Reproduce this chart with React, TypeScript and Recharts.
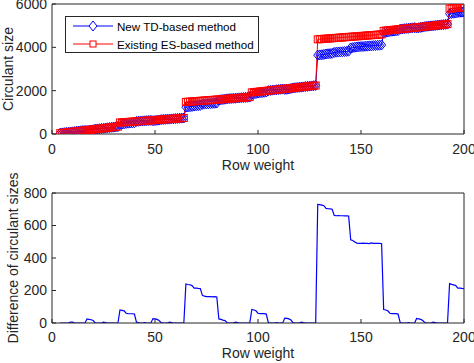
import React from "react";
import { LineChart, Line, XAxis, YAxis, Legend, Label } from "recharts";

// row weights start at 4 and go up by one to 200
const FIRST_ROW_WEIGHT = 4;

// circulant size, new TD-based method (blue diamonds)
const tdSize = [
  40, 50, 62, 72, 82, 90, 99, 115, 126, 136, 148, 158, 168, 157, 170, 183, 197, 222, 234, 244, 255, 261, 273, 288, 297, 308, 318, 330, 340,
  450, 458, 469, 489, 500, 507, 513, 521, 580, 588, 598, 603, 608, 618, 624, 630, 612, 619, 630, 642, 663, 672, 677, 686, 686, 696, 704, 713, 718, 727, 732, 740,
  1240, 1251, 1258, 1273, 1293, 1302, 1309, 1320, 1367, 1381, 1389, 1399, 1404, 1414, 1418, 1430, 1570, 1582, 1591, 1604, 1622, 1633, 1638, 1648, 1648, 1659, 1667, 1677, 1682, 1691, 1696, 1705,
  1837, 1850, 1866, 1890, 1904, 1913, 1924, 1936, 2000, 2011, 2024, 2032, 2042, 2053, 2065, 2073, 2056, 2066, 2081, 2097, 2125, 2135, 2148, 2156, 2163, 2174, 2189, 2197, 2210, 2218, 2230, 2240,
  3640, 3650, 3658, 3671, 3693, 3704, 3711, 3722, 3765, 3777, 3781, 3791, 3797, 3807, 3811, 3823, 3974, 3987, 4003, 4018, 4025, 4035, 4039, 4049, 4055, 4065, 4066, 4079, 4084, 4093, 4099, 4110,
  4677, 4689, 4706, 4729, 4743, 4752, 4761, 4776, 4837, 4849, 4861, 4870, 4877, 4891, 4900, 4909, 4893, 4905, 4917, 4936, 4958, 4969, 4981, 4990, 4994, 5008, 5020, 5029, 5041, 5050, 5059, 5071,
  5548, 5562, 5573, 5585, 5607, 5616, 5625, 5634,
];

// circulant size, existing ES-based method (red squares)
const esSize = [
  40, 50, 62, 72, 82, 95, 104, 115, 126, 136, 148, 158, 168, 182, 192, 203, 212, 222, 234, 244, 255, 266, 276, 288, 297, 308, 318, 330, 340,
  530, 536, 544, 549, 557, 564, 570, 576, 585, 590, 598, 603, 611, 618, 624, 630, 639, 644, 652, 657, 665, 672, 677, 686, 691, 699, 704, 713, 718, 727, 732, 740,
  1480, 1488, 1493, 1503, 1508, 1517, 1522, 1532, 1537, 1546, 1551, 1561, 1566, 1575, 1580, 1590, 1595, 1604, 1609, 1619, 1624, 1633, 1638, 1648, 1653, 1662, 1667, 1677, 1682, 1691, 1696, 1705,
  1920, 1930, 1941, 1950, 1962, 1971, 1982, 1991, 2003, 2011, 2024, 2032, 2044, 2053, 2065, 2073, 2086, 2094, 2106, 2115, 2127, 2135, 2148, 2156, 2168, 2177, 2189, 2197, 2210, 2218, 2230, 2240,
  4370, 4378, 4383, 4393, 4398, 4407, 4413, 4422, 4427, 4437, 4442, 4451, 4457, 4466, 4471, 4481, 4486, 4495, 4501, 4510, 4515, 4525, 4530, 4539, 4545, 4554, 4559, 4569, 4574, 4583, 4589, 4598,
  4760, 4769, 4781, 4789, 4801, 4810, 4819, 4831, 4840, 4849, 4861, 4870, 4879, 4891, 4900, 4909, 4921, 4930, 4939, 4951, 4960, 4969, 4981, 4990, 4999, 5011, 5020, 5029, 5041, 5050, 5059, 5071,
  5790, 5800, 5808, 5815, 5822, 5831, 5838, 5846,
];

const weightTicks = [0, 50, 100, 150, 200];
const sizeTicks = [0, 2000, 4000, 6000];
const diffTicks = [0, 200, 400, 600, 800];

const data = esSize.map((es, i) => ({
  weight: i + FIRST_ROW_WEIGHT,
  td: tdSize[i],
  es,
  diff: es - tdSize[i],
}));

const AXIS = "#262626";
const FONT = '"Liberation Sans", Arial, sans-serif';
const BLUE = "#0000ff";
const RED = "#ff0000";
const tickStyle = { fill: AXIS, fontSize: 14, fontFamily: FONT };
const labelStyle = { fill: AXIS, fontSize: 14, fontFamily: FONT };

const diamondPath = (x: number, y: number) =>
  `M${x},${y - 5}L${x + 4},${y}L${x},${y + 5}L${x - 4},${y}Z`;

const DiamondDot = (props: any) => {
  const { cx, cy, index } = props;
  if (cx == null || cy == null) return <g key={`td-${index}`} />;
  return (
    <path key={`td-${index}`} d={diamondPath(cx, cy)} fill="none" stroke={BLUE} strokeWidth={1} />
  );
};

const SquareDot = (props: any) => {
  const { cx, cy, index } = props;
  if (cx == null || cy == null) return <g key={`es-${index}`} />;
  return (
    <rect key={`es-${index}`} x={cx - 3.5} y={cy - 3.5} width={7} height={7} fill="none" stroke={RED} strokeWidth={1} />
  );
};

const LegendBox = () => (
  <div
    style={{
      boxSizing: "border-box",
      width: 194,
      height: 37,
      border: `1px solid ${AXIS}`,
      background: "#fff",
      fontFamily: FONT,
      fontSize: 11.6,
      color: "#000",
      paddingLeft: 7,
      whiteSpace: "nowrap",
    }}
  >
    <div style={{ display: "flex", alignItems: "center", height: 18 }}>
      <svg width={41} height={12}>
        <line x1={0} y1={6} x2={40} y2={6} stroke={BLUE} />
        <path d={diamondPath(20, 6)} fill="#fff" stroke={BLUE} />
      </svg>
      <span style={{ marginLeft: 3 }}>New TD-based method</span>
    </div>
    <div style={{ display: "flex", alignItems: "center", height: 18 }}>
      <svg width={41} height={12}>
        <line x1={0} y1={6} x2={40} y2={6} stroke={RED} />
        <rect x={17} y={3} width={6} height={6} fill="#fff" stroke={RED} />
      </svg>
      <span style={{ marginLeft: 3 }}>Existing ES-based method</span>
    </div>
  </div>
);

const App = () => (
  <div style={{ position: "absolute", left: 0, top: 0, width: 474, height: 363, background: "#fff" }}>
    <div style={{ position: "absolute", left: 0, top: 0 }}>
      <LineChart width={474} height={180} data={data} margin={{ top: 3, right: 9, bottom: 0, left: 0 }}>
        <XAxis
          xAxisId="b"
          dataKey="weight"
          type="number"
          domain={[0, 200]}
          ticks={weightTicks}
          interval={0}
          height={46}
          tickSize={-4}
          tickMargin={14}
          stroke={AXIS}
          tick={tickStyle}
          allowDataOverflow
        >
          <Label value="Row weight" position="insideBottom" offset={10} style={labelStyle} />
        </XAxis>
        <XAxis xAxisId="t" orientation="top" dataKey="weight" type="number" domain={[0, 200]} ticks={weightTicks} height={1} tickSize={-4} tick={false} stroke={AXIS} allowDataOverflow />
        <YAxis
          yAxisId="l"
          type="number"
          domain={[0, 6000]}
          ticks={sizeTicks}
          interval={0}
          width={52}
          tickSize={-4}
          tickMargin={9}
          stroke={AXIS}
          tick={tickStyle}
          allowDataOverflow
        >
          <Label value="Circulant size" angle={-90} position="insideLeft" offset={8} style={{ ...labelStyle, textAnchor: "middle" }} />
        </YAxis>
        <YAxis yAxisId="r" orientation="right" type="number" domain={[0, 6000]} ticks={sizeTicks} width={1} tickSize={-4} tick={false} stroke={AXIS} allowDataOverflow />
        <Line xAxisId="b" yAxisId="l" type="linear" dataKey="td" stroke={BLUE} strokeWidth={1} dot={DiamondDot} activeDot={false} isAnimationActive={false} />
        <Line xAxisId="b" yAxisId="l" type="linear" dataKey="es" stroke={RED} strokeWidth={1} dot={SquareDot} activeDot={false} isAnimationActive={false} />
        <Legend layout="vertical" align="center" verticalAlign="middle" content={<LegendBox />} wrapperStyle={{ left: 65, top: 16, width: 194, height: 37 }} />
      </LineChart>
    </div>
    <div style={{ position: "absolute", left: 0, top: 160 }}>
      <LineChart width={474} height={203} data={data} margin={{ top: 32, right: 9, bottom: 0, left: 0 }}>
        <XAxis
          xAxisId="b"
          dataKey="weight"
          type="number"
          domain={[0, 200]}
          ticks={weightTicks}
          interval={0}
          height={40}
          tickSize={-4}
          tickMargin={13}
          stroke={AXIS}
          tick={tickStyle}
          allowDataOverflow
        >
          <Label value="Row weight" position="insideBottom" offset={5} style={labelStyle} />
        </XAxis>
        <XAxis xAxisId="t" orientation="top" dataKey="weight" type="number" domain={[0, 200]} ticks={weightTicks} height={1} tickSize={-4} tick={false} stroke={AXIS} allowDataOverflow />
        <YAxis
          yAxisId="l"
          type="number"
          domain={[0, 800]}
          ticks={diffTicks}
          interval={0}
          width={52}
          tickSize={-4}
          tickMargin={9}
          stroke={AXIS}
          tick={tickStyle}
          allowDataOverflow
        >
          <Label value="Difference of circulant sizes" angle={-90} position="insideLeft" offset={13} style={{ ...labelStyle, textAnchor: "middle" }} />
        </YAxis>
        <YAxis yAxisId="r" orientation="right" type="number" domain={[0, 800]} ticks={diffTicks} width={1} tickSize={-4} tick={false} stroke={AXIS} allowDataOverflow />
        <Line xAxisId="b" yAxisId="l" type="linear" dataKey="diff" stroke={BLUE} strokeWidth={1.2} dot={false} activeDot={false} isAnimationActive={false} />
      </LineChart>
    </div>
  </div>
);

export default App;
